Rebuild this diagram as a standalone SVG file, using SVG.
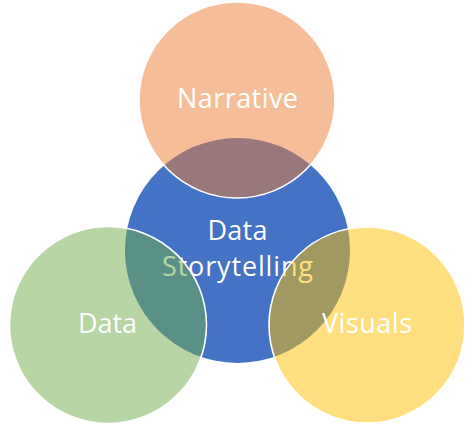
<svg xmlns="http://www.w3.org/2000/svg" width="474" height="424" viewBox="0 0 474 424">
  <style>
    .ring { fill-opacity: 0.5; stroke: #FFFFFF; stroke-width: 1.6; }
    .label { font-family: "Open Sans", "Noto Sans", "Liberation Sans", sans-serif; font-size: 27px; fill: #FFFFFF; text-anchor: middle; }
  </style>
  <rect width="474" height="424" fill="#FFFFFF"/>

  <!-- centre circle and its label sit beneath the translucent outer circles -->
  <g id="storytelling">
    <circle cx="237.5" cy="250.5" r="112.5" fill="#4472C4"/>
    <text class="label" x="237.5" y="240" textLength="60">Data</text>
    <text class="label" x="237.5" y="276" textLength="151">Storytelling</text>
  </g>

  <g id="narrative">
    <circle class="ring" cx="237" cy="100" r="98" fill="#ED7D31"/>
  </g>

  <g id="data">
    <circle class="ring" cx="108" cy="325" r="98.5" fill="#70AD47"/>
  </g>

  <g id="visuals">
    <circle class="ring" cx="367" cy="325" r="98" fill="#FFC000"/>
  </g>

  <!-- outer labels drawn on top -->
  <g id="labels">
    <text class="label" x="237.5" y="108" textLength="121">Narrative</text>
    <text class="label" x="107.5" y="333" textLength="59">Data</text>
    <text class="label" x="367" y="333" textLength="90">Visuals</text>
  </g>
</svg>
